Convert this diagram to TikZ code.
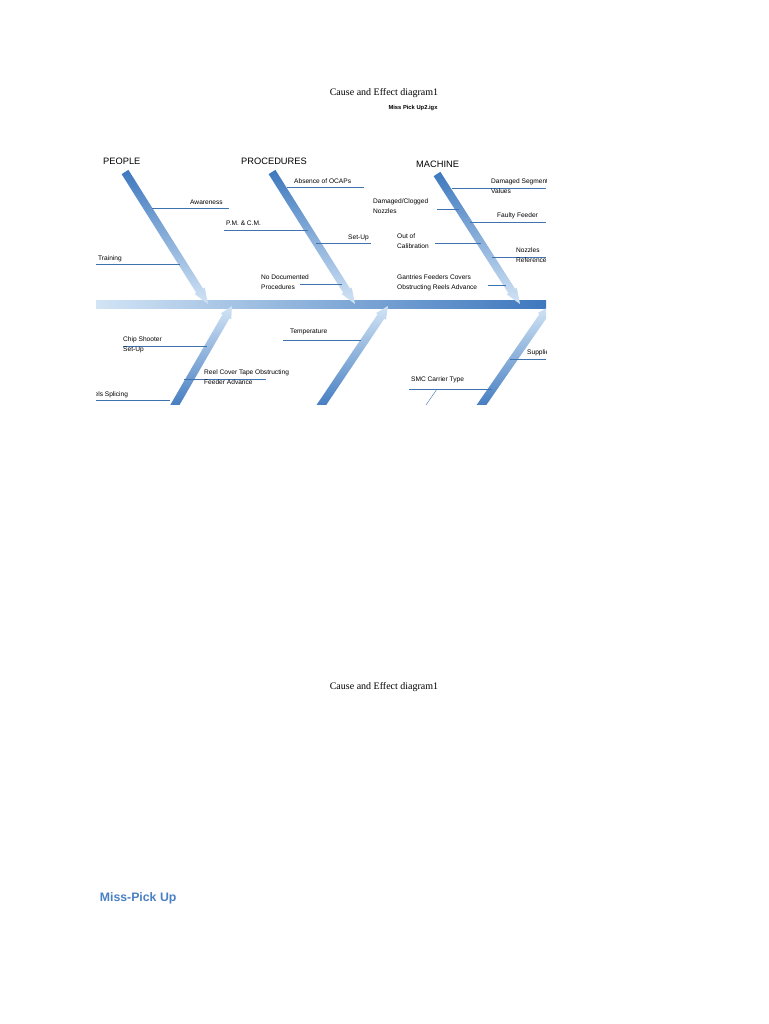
\documentclass[tikz,border=0pt]{standalone}
\usepackage{fontspec}
\setmainfont{Liberation Serif}
\newfontfamily\lab{Liberation Sans}
\usetikzlibrary{calc}
\definecolor{bdark}{HTML}{3E78BE}
\definecolor{blight}{HTML}{D2E4F5}
\definecolor{bline}{HTML}{3F72B0}
\definecolor{ptitle}{HTML}{4A80C4}
\newcommand\mybone[4]{%
  \coordinate (ta) at (#1); \coordinate (tb) at (#2);
  \coordinate (tc) at ($(ta)!0.9!(tb)$);
  \shade[top color=#3,bottom color=#4] ($(ta)!4pt!90:(tc)$) -- ($(tc)!4pt!-90:(ta)$) -- ($(tc)!6pt!-90:(ta)$) -- (tb) -- ($(tc)!6pt!90:(ta)$) -- ($(tc)!4pt!90:(ta)$) -- ($(ta)!4pt!-90:(tc)$) -- cycle;}
\tikzset{lbl/.style={font=\lab\fontsize{6.6}{9.5}\selectfont,inner sep=0pt,anchor=north west,align=left},
 br/.style={draw=bline,line width=0.6pt},
 hd/.style={font=\lab\fontsize{9.3}{11}\selectfont,inner sep=0pt}}
\begin{document}
\begin{tikzpicture}[x=1pt,y=-1pt]
\useasboundingbox (0,0) rectangle (768,1024);
\node[font=\fontsize{10}{12}\selectfont] (t1) at (384,93) {Cause and Effect diagram1};
\node[font=\lab\bfseries\fontsize{5.8}{6}\selectfont] (t2) at (413,108) {Miss Pick Up2.igx};
\node[font=\fontsize{10}{12}\selectfont] (t3) at (384,687) {Cause and Effect diagram1};
\begin{scope}
\clip (96,148) rectangle (546,404);
% spine
\shade[left color=blight,right color=bdark] (96,300) rectangle (546,308);
% upper bones
\mybone{125,172}{208,304}{bdark}{blight}
\mybone{272,172}{355,304}{bdark}{blight}
\mybone{437,174}{520,304}{bdark}{blight}
% lower bones
\mybone{172,410}{232,306}{blight}{bdark}
\mybone{318,410}{388,306}{blight}{bdark}
\mybone{478,410}{550,306}{blight}{bdark}
% headings
\node[hd,anchor=west] (pe) at (103,161) {PEOPLE};
\node[hd,anchor=west] (pr) at (241,161) {PROCEDURES};
\node[hd,anchor=west] (ma) at (416,164) {MACHINE};
% branches
\draw[br] (152,208) -- (229,208); \node[lbl] (aw) at (190,200) {Awareness};
\draw[br] (96,264) -- (180,264); \node[lbl] (tr) at (98,256) {Training};
\draw[br] (287,187) -- (364,187); \node[lbl] (oc) at (294,179) {Absence of OCAPs};
\draw[br] (224,230) -- (308,230); \node[lbl] (pm) at (226,221) {P.M. \& C.M.};
\draw[br] (316,243) -- (371,243); \node[lbl] (su) at (348,235) {Set-Up};
\draw[br] (300,284) -- (342,284); \node[lbl] (nd) at (261,275) {No Documented\\Procedures};
\draw[br] (452,188) -- (546,188); \node[lbl] (ds) at (491,179) {Damaged Segment\\Values};
\draw[br] (437,209) -- (459,209); \node[lbl] (dc) at (373,199) {Damaged/Clogged\\Nozzles};
\draw[br] (470,222) -- (546,222); \node[lbl] (ff) at (497,213) {Faulty Feeder};
\draw[br] (435,243) -- (481,243); \node[lbl] (oc2) at (397,234) {Out of\\Calibration};
\draw[br] (492,257) -- (546,257); \node[lbl] (nr) at (516,248) {Nozzles\\Reference};
\draw[br] (488,285) -- (506,285); \node[lbl] (ga) at (397,275) {Gantries Feeders Covers\\Obstructing Reels Advance};
\draw[br] (123,346) -- (207,346); \node[lbl] (cs) at (123,337) {Chip Shooter\\Set-Up};
\draw[br] (184,379) -- (266,379); \node[lbl] (rc) at (204,370) {Reel Cover Tape Obstructing\\Feeder Advance};
\draw[br] (96,400) -- (170,400); \node[lbl] (rs) at (86,392) {Reels Splicing};
\draw[br] (283,340) -- (361,340); \node[lbl] (te) at (290,329) {Temperature};
\draw[br] (409,389) -- (492,389); \node[lbl] (sm) at (411,377) {SMC Carrier Type};
\draw[br] (510,359) -- (546,359); \node[lbl] (sp) at (527,350) {Supplier};
\coordinate (sa) at (426,405); \coordinate (sb) at (437,389);
\draw[br,line width=0.4pt] (sa) -- (sb);
\end{scope}
\begin{scope}
\clip (94,880) rectangle (200,915);
\node[font=\lab\bfseries\fontsize{12.3}{14}\selectfont,text=ptitle,anchor=west,inner sep=0pt] (mpu) at (91,898) {: Miss-Pick Up};
\end{scope}
\end{tikzpicture}
\end{document}
